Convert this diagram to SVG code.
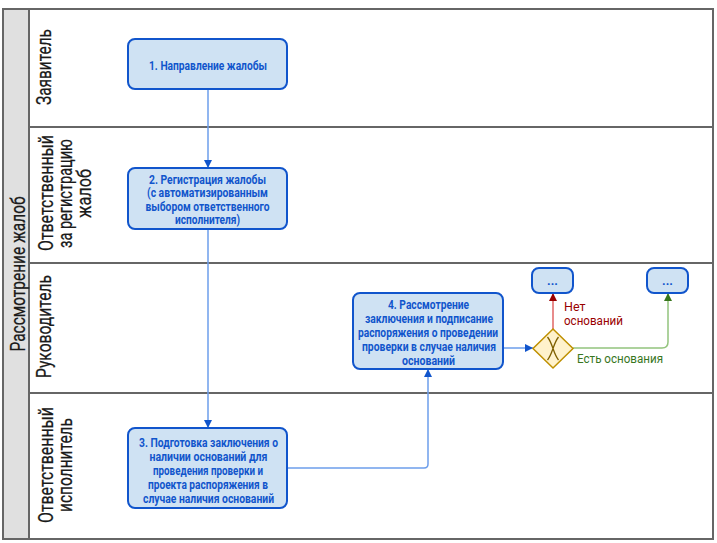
<svg xmlns="http://www.w3.org/2000/svg" width="717" height="543" viewBox="0 0 717 543">
<style>
.lane{fill:none;stroke:#666;stroke-width:2}
.hdr{fill:#e0e0e0;stroke:#666;stroke-width:2}
.lbl{font-family:Roboto,"Noto Sans",sans-serif;font-size:19.5px;fill:#1a1a1a;text-anchor:middle;stroke:#1a1a1a;stroke-width:0.25}
.task{fill:#cfe2f3;stroke:#1155cc;stroke-width:2}
.tt{font-family:Roboto,"Noto Sans",sans-serif;font-size:12.5px;font-weight:bold;fill:#1155cc;text-anchor:middle}
.flow{fill:none;stroke:#6d9eeb;stroke-width:1.5}
.no{fill:none;stroke:#e06666;stroke-width:1.5}
.yes{fill:none;stroke:#93c47d;stroke-width:1.5}
.el{font-family:Roboto,"Noto Sans",sans-serif;font-size:12.5px}
</style>
<defs>
<marker id="ab" viewBox="0 0 10 10" refX="10" refY="5" markerWidth="8" markerHeight="8" markerUnits="userSpaceOnUse" orient="auto"><path d="M0,0 L10,5 L0,10 z" fill="#1155cc"/></marker>
<marker id="ar" viewBox="0 0 10 10" refX="10" refY="5" markerWidth="8" markerHeight="8" markerUnits="userSpaceOnUse" orient="auto"><path d="M0,0 L10,5 L0,10 z" fill="#990000"/></marker>
<marker id="ag" viewBox="0 0 10 10" refX="10" refY="5" markerWidth="8" markerHeight="8" markerUnits="userSpaceOnUse" orient="auto"><path d="M0,0 L10,5 L0,10 z" fill="#38761d"/></marker>
</defs>
<rect width="717" height="543" fill="#fff"/>
<g id="pool">
<rect class="hdr" x="3" y="9" width="26" height="530"/>
<rect class="lane" x="3" y="9" width="710" height="530"/>
<line class="lane" x1="29" y1="127" x2="713" y2="127"/>
<line class="lane" x1="29" y1="263" x2="713" y2="263"/>
<line class="lane" x1="29" y1="393" x2="713" y2="393"/>
<text class="lbl" transform="translate(24.5,274) rotate(-90)" textLength="155" lengthAdjust="spacingAndGlyphs">Рассмотрение жалоб</text>
</g>
<g id="lane1"><text class="lbl" transform="translate(51,67) rotate(-90)" textLength="76" lengthAdjust="spacingAndGlyphs">Заявитель</text></g>
<g id="lane2">
<text class="lbl" transform="translate(53,193) rotate(-90)" textLength="116" lengthAdjust="spacingAndGlyphs">Ответственный</text>
<text class="lbl" transform="translate(72,193.5) rotate(-90)" textLength="109" lengthAdjust="spacingAndGlyphs">за регистрацию</text>
<text class="lbl" transform="translate(90.5,193.5) rotate(-90)" textLength="49" lengthAdjust="spacingAndGlyphs">жалоб</text>
</g>
<g id="lane3"><text class="lbl" transform="translate(51,326.5) rotate(-90)" textLength="103" lengthAdjust="spacingAndGlyphs">Руководитель</text></g>
<g id="lane4">
<text class="lbl" transform="translate(53,465) rotate(-90)" textLength="116" lengthAdjust="spacingAndGlyphs">Ответственный</text>
<text class="lbl" transform="translate(71.5,465) rotate(-90)" textLength="94" lengthAdjust="spacingAndGlyphs">исполнитель</text>
</g>
<g id="connectors">
<line class="flow" x1="208" y1="89" x2="208" y2="168" marker-end="url(#ab)"/>
<line class="flow" x1="208" y1="229" x2="208" y2="428" marker-end="url(#ab)"/>
<path class="flow" d="M287,468 H424 Q428,468 428,464 V369" marker-end="url(#ab)"/>
<line class="flow" x1="503" y1="348" x2="533" y2="348" marker-end="url(#ab)"/>
<line class="no" x1="553" y1="329" x2="553" y2="293" marker-end="url(#ar)"/>
<path class="yes" d="M573,348 H662 Q668,348 668,342 V293" marker-end="url(#ag)"/>
<text class="el" fill="#990000" x="564" y="310.5">Нет</text>
<text class="el" fill="#990000" x="564" y="325" textLength="59" lengthAdjust="spacingAndGlyphs">оснований</text>
<text class="el" fill="#38761d" x="577" y="362.5" textLength="86" lengthAdjust="spacingAndGlyphs">Есть основания</text>
</g>
<g id="n1">
<rect class="task" x="128" y="39" width="159" height="50" rx="7"/>
<text class="tt" x="208" y="69.5" textLength="118" lengthAdjust="spacingAndGlyphs">1. Направление жалобы</text>
</g>
<g id="n2">
<rect class="task" x="128" y="168" width="159" height="61" rx="7"/>
<text class="tt" x="207.5" y="183.5" textLength="117" lengthAdjust="spacingAndGlyphs">2. Регистрация жалобы</text>
<text class="tt" x="207.5" y="197" textLength="121" lengthAdjust="spacingAndGlyphs">(с автоматизированным</text>
<text class="tt" x="207.5" y="210.5" textLength="124" lengthAdjust="spacingAndGlyphs">выбором ответственного</text>
<text class="tt" x="207.5" y="224" textLength="65" lengthAdjust="spacingAndGlyphs">исполнителя)</text>
</g>
<g id="n3">
<rect class="task" x="128" y="428" width="159" height="80" rx="7"/>
<text class="tt" x="208.5" y="446.5" textLength="139" lengthAdjust="spacingAndGlyphs">3. Подготовка заключения о</text>
<text class="tt" x="208.5" y="460.5" textLength="118" lengthAdjust="spacingAndGlyphs">наличии оснований для</text>
<text class="tt" x="208" y="474.5" textLength="110" lengthAdjust="spacingAndGlyphs">проведения проверки и</text>
<text class="tt" x="208" y="488.5" textLength="120" lengthAdjust="spacingAndGlyphs">проекта распоряжения в</text>
<text class="tt" x="208.5" y="502.5" textLength="131" lengthAdjust="spacingAndGlyphs">случае наличия оснований</text>
</g>
<g id="n4">
<rect class="task" x="353" y="293" width="150" height="76" rx="7"/>
<text class="tt" x="428.5" y="309" textLength="81" lengthAdjust="spacingAndGlyphs">4. Рассмотрение</text>
<text class="tt" x="429" y="323" textLength="128" lengthAdjust="spacingAndGlyphs">заключения и подписание</text>
<text class="tt" x="428" y="337" textLength="140" lengthAdjust="spacingAndGlyphs">распоряжения о проведении</text>
<text class="tt" x="429" y="351" textLength="134" lengthAdjust="spacingAndGlyphs">проверки в случае наличия</text>
<text class="tt" x="428.5" y="365" textLength="53" lengthAdjust="spacingAndGlyphs">оснований</text>
</g>
<g id="gw">
<path d="M553,329 L573,348.5 L553,368 L533,348.5 z" fill="#fff2cc" stroke="#bf9000" stroke-width="1.5"/>
<path d="M547.5,337 C553,344 553,353 558.5,360 M558.5,337 C553,344 553,353 547.5,360" fill="none" stroke="#7f6000" stroke-width="1.3"/>
</g>
<g id="e1">
<rect class="task" x="532" y="268" width="41" height="25" rx="7"/>
<text class="tt" x="552.5" y="285">...</text>
</g>
<g id="e2">
<rect class="task" x="647" y="268" width="41" height="25" rx="7"/>
<text class="tt" x="667.5" y="285">...</text>
</g>
</svg>
